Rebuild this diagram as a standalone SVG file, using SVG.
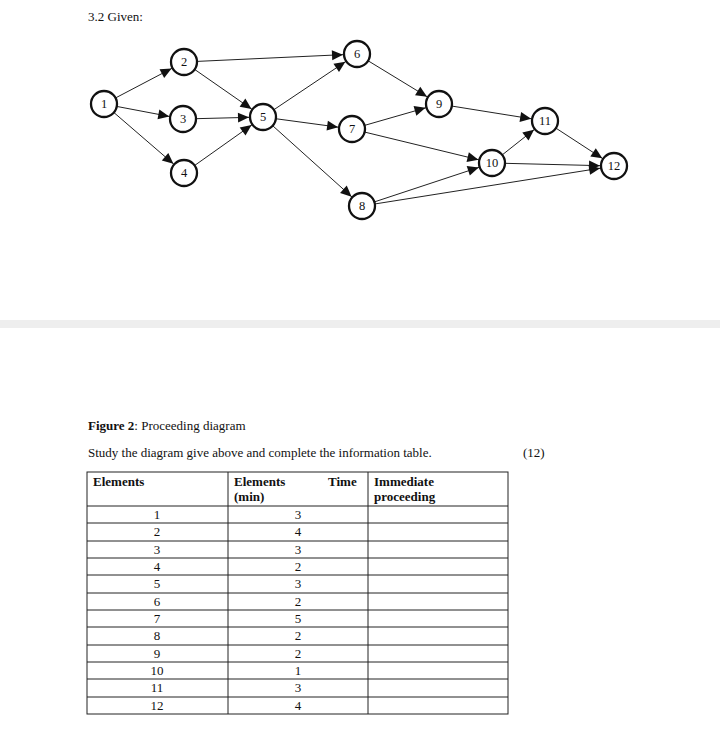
<svg xmlns="http://www.w3.org/2000/svg" width="720" height="731" viewBox="0 0 720 731">
<style>
text{font-family:"Liberation Serif",serif;fill:#111}
.n circle{fill:#fff;stroke:#111;stroke-width:2.3}
.n text{font-size:12.5px;text-anchor:middle}
#edges line{stroke:#222;stroke-width:1;marker-end:url(#a)}
.t{font-size:13px}
.c text{font-size:13px;text-anchor:middle}
.b{font-weight:bold;font-size:13px}
.g line{stroke:#222;stroke-width:1}
</style>
<defs><marker id="a" markerUnits="userSpaceOnUse" markerWidth="40" markerHeight="20" refX="25" refY="5" orient="auto" overflow="visible"><path d="M0,0L11,5L0,10z" fill="#111"/></marker></defs>
<rect width="720" height="731" fill="#fff"/>
<text x="88" y="21" class="t">3.2 Given:</text>
<g id="edges">
<line x1="104" y1="104" x2="184" y2="62"/><line x1="104" y1="104" x2="183" y2="119"/><line x1="104" y1="104" x2="184" y2="173"/>
<line x1="184" y1="62" x2="357" y2="54"/><line x1="184" y1="62" x2="263" y2="117"/><line x1="183" y1="119" x2="263" y2="117"/><line x1="184" y1="173" x2="263" y2="117"/>
<line x1="263" y1="117" x2="357" y2="54"/><line x1="263" y1="117" x2="352" y2="129"/><line x1="263" y1="117" x2="362" y2="206"/>
<line x1="357" y1="54" x2="439" y2="104"/><line x1="352" y1="129" x2="439" y2="104"/><line x1="352" y1="129" x2="492" y2="163"/>
<line x1="362" y1="206" x2="492" y2="163"/><line x1="362" y1="206" x2="614" y2="166"/>
<line x1="439" y1="104" x2="545" y2="121"/><line x1="492" y1="163" x2="545" y2="121"/><line x1="492" y1="163" x2="614" y2="166"/><line x1="545" y1="121" x2="614" y2="166"/>
</g>
<g id="n1" class="n"><circle cx="104" cy="104" r="13"/><text x="104" y="108">1</text></g>
<g id="n2" class="n"><circle cx="184" cy="62" r="13"/><text x="184" y="66">2</text></g>
<g id="n3" class="n"><circle cx="183" cy="119" r="13"/><text x="183" y="123">3</text></g>
<g id="n4" class="n"><circle cx="184" cy="173" r="13"/><text x="184" y="177">4</text></g>
<g id="n5" class="n"><circle cx="263" cy="117" r="13"/><text x="263" y="121">5</text></g>
<g id="n6" class="n"><circle cx="357" cy="54" r="13"/><text x="357" y="58">6</text></g>
<g id="n7" class="n"><circle cx="352" cy="129" r="13"/><text x="352" y="133">7</text></g>
<g id="n8" class="n"><circle cx="362" cy="206" r="13"/><text x="362" y="210">8</text></g>
<g id="n9" class="n"><circle cx="439" cy="104" r="13"/><text x="439" y="108">9</text></g>
<g id="n10" class="n"><circle cx="492" cy="163" r="13"/><text x="492" y="167">10</text></g>
<g id="n11" class="n"><circle cx="545" cy="121" r="13"/><text x="545" y="125">11</text></g>
<g id="n12" class="n"><circle cx="614" cy="166" r="13"/><text x="614" y="170">12</text></g>
<rect x="0" y="320" width="720" height="8" fill="#eeeeee"/>
<text x="88" y="430" class="t"><tspan font-weight="bold">Figure 2</tspan>: Proceeding diagram</text>
<text x="88" y="457" class="t">Study the diagram give above and complete the information table.</text>
<text x="523" y="457" class="t">(12)</text>
<g class="g">
<rect x="87" y="472" width="421" height="242" fill="none" stroke="#222"/>
<line x1="228" y1="472" x2="228" y2="714"/><line x1="368" y1="472" x2="368" y2="714"/>
<line x1="87" y1="506" x2="508" y2="506"/><line x1="87" y1="523" x2="508" y2="523"/><line x1="87" y1="541" x2="508" y2="541"/><line x1="87" y1="558" x2="508" y2="558"/><line x1="87" y1="575" x2="508" y2="575"/><line x1="87" y1="593" x2="508" y2="593"/><line x1="87" y1="610" x2="508" y2="610"/><line x1="87" y1="627" x2="508" y2="627"/><line x1="87" y1="645" x2="508" y2="645"/><line x1="87" y1="662" x2="508" y2="662"/><line x1="87" y1="679" x2="508" y2="679"/><line x1="87" y1="697" x2="508" y2="697"/>
</g>
<text x="93" y="486" class="b">Elements</text>
<text x="234" y="486" class="b">Elements</text><text x="328" y="486" class="b">Time</text><text x="234" y="501" class="b">(min)</text>
<text x="374" y="486" class="b">Immediate</text><text x="374" y="501" class="b">proceeding</text>
<g class="c">
<text x="157" y="519">1</text><text x="157" y="536">2</text><text x="157" y="554">3</text><text x="157" y="571">4</text><text x="157" y="588">5</text><text x="157" y="606">6</text><text x="157" y="623">7</text><text x="157" y="640">8</text><text x="157" y="658">9</text><text x="157" y="675">10</text><text x="157" y="692">11</text><text x="157" y="710">12</text>
<text x="298" y="519">3</text><text x="298" y="536">4</text><text x="298" y="554">3</text><text x="298" y="571">2</text><text x="298" y="588">3</text><text x="298" y="606">2</text><text x="298" y="623">5</text><text x="298" y="640">2</text><text x="298" y="658">2</text><text x="298" y="675">1</text><text x="298" y="692">3</text><text x="298" y="710">4</text>
</g>
</svg>
